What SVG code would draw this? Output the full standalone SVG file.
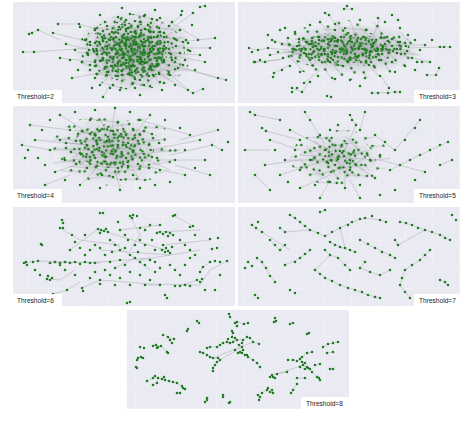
<svg xmlns="http://www.w3.org/2000/svg" width="474" height="422" viewBox="0 0 474 422">
<style>
.bg{fill:#eaeaf2}
.grid{fill:url(#grid)}
.lab{fill:#ffffff}
.t{font-family:"Liberation Sans",Arial,sans-serif;font-size:6.6px;fill:#222}
.e{fill:none;stroke:#a9a9b2;stroke-width:0.5}
.d{fill:none;stroke:#1f7d1f;stroke-width:2.6;stroke-linecap:round}
.pd{fill:#1f7d1f}
.pe{fill:none;stroke:#a0a0aa;stroke-width:0.45}
</style>
<defs>
<pattern id="grid" patternUnits="userSpaceOnUse" width="27" height="24">
<path d="M0 0V24M0 0H27" stroke="#f5f5f9" stroke-width="0.8" fill="none"/>
</pattern>
<pattern id="pA" patternUnits="userSpaceOnUse" width="19" height="17">
<path class="pe" d="M2 3L12 12M9 1L5 10M15 6L17 15"/>
<circle class="pd" cx="2" cy="3" r="1.35"/><circle class="pd" cx="9" cy="1.5" r="1.35"/><circle class="pd" cx="15" cy="6" r="1.35"/><circle class="pd" cx="5" cy="10" r="1.35"/><circle class="pd" cx="12" cy="12" r="1.35"/><circle class="pd" cx="17" cy="15" r="1.35"/><circle class="pd" cx="1.5" cy="15" r="1.35"/><circle class="pd" cx="8" cy="7" r="1.35"/>
</pattern>
<pattern id="pB" patternUnits="userSpaceOnUse" width="23" height="29">
<path class="pe" d="M3 4L15 17M11 2L20 21M7 13L10 25"/>
<circle class="pd" cx="3" cy="4" r="1.35"/><circle class="pd" cx="11" cy="2" r="1.35"/><circle class="pd" cx="19" cy="8" r="1.35"/><circle class="pd" cx="7" cy="13" r="1.35"/><circle class="pd" cx="15" cy="17" r="1.35"/><circle class="pd" cx="2" cy="22" r="1.35"/><circle class="pd" cx="10" cy="25" r="1.35"/><circle class="pd" cx="20" cy="21" r="1.35"/><circle class="pd" cx="13" cy="9" r="1.35"/>
</pattern>
<pattern id="pC" patternUnits="userSpaceOnUse" width="31" height="23">
<path class="pe" d="M4 5L25 7M9 14L28 19"/>
<circle class="pd" cx="4" cy="5" r="1.35"/><circle class="pd" cx="14" cy="3" r="1.35"/><circle class="pd" cx="25" cy="7" r="1.35"/><circle class="pd" cx="9" cy="14" r="1.35"/><circle class="pd" cx="20" cy="16" r="1.35"/><circle class="pd" cx="28" cy="19" r="1.35"/><circle class="pd" cx="2" cy="20" r="1.35"/>
</pattern>
<pattern id="pA2" href="#pA" patternTransform="rotate(23) translate(5 3)"/>
<pattern id="pA3" href="#pA" patternTransform="rotate(-47) translate(2 8)"/>
<pattern id="pA4" href="#pA" patternTransform="rotate(81) translate(9 4)"/>
<pattern id="pB2" href="#pB" patternTransform="rotate(-31) translate(7 11)"/>
<pattern id="pB3" href="#pB" patternTransform="rotate(67) translate(4 2)"/>
<pattern id="pB4" href="#pB" patternTransform="rotate(12) translate(14 6)"/>
<pattern id="pC2" href="#pC" patternTransform="rotate(41) translate(3 9)"/>
<pattern id="pC3" href="#pC" patternTransform="rotate(-13) translate(11 5)"/>
<radialGradient id="haze">
<stop offset="0" stop-color="#8c8c92" stop-opacity="0.6"/>
<stop offset="1" stop-color="#8c8c92" stop-opacity="0"/>
</radialGradient>
</defs>
<rect width="474" height="422" fill="#fff"/>

<g id="panel-t2">
<rect class="bg" x="13" y="2" width="222" height="101"/>
<rect class="grid" x="13" y="2" width="222" height="101"/>
<ellipse cx="135" cy="52" rx="62" ry="42" fill="url(#haze)"/>
<path class="e" d="M23 52L34 52M34 52L88 48M29 34L38 30L60 40M58 24L79 24L100 30M79 24L80 27M53 33L90 42M200 7L205 6M193 13L170 30M182 11L181 15L160 35M218 78L226 80M218 78L175 65M203 89L193 93L160 75M103 97L110 85M188 90L165 70M90 45L180 60M95 60L185 45M100 30L170 80M110 80L175 30M85 55L150 40M120 20L160 85M140 15L130 88M100 70L190 70M95 38L185 38M105 50L200 55M170 22L200 40M150 60L218 78M66 44L100 52M60 58L95 62M72 78L105 72M205 62L170 55M210 48L175 48M215 38L180 42"/>
<ellipse cx="135" cy="52" rx="57" ry="38" fill="url(#pC)"/>
<ellipse cx="133" cy="51" rx="52" ry="35" fill="url(#pB3)"/>
<ellipse cx="133" cy="51" rx="46" ry="31" fill="url(#pB)"/>
<ellipse cx="132" cy="51" rx="42" ry="29" fill="url(#pC2)"/>
<ellipse cx="130" cy="50" rx="38" ry="27" fill="url(#pA)"/>
<ellipse cx="134" cy="52" rx="34" ry="25" fill="url(#pB4)"/>
<ellipse cx="136" cy="53" rx="30" ry="22" fill="url(#pA2)"/>
<ellipse cx="124" cy="46" rx="24" ry="20" fill="url(#pB2)"/>
<ellipse cx="140" cy="56" rx="24" ry="17" fill="url(#pA3)"/>
<ellipse cx="128" cy="50" rx="20" ry="15" fill="url(#pC3)"/>
<ellipse cx="132" cy="48" rx="16" ry="13" fill="url(#pA4)"/>
<path class="d" d="M23 52h0M34 52h0M29 34h0M32 33h0M38 30h0M58 24h0M79 24h0M80 27h0M53 33h0M200 7h0M205 6h0M193 13h0M182 11h0M181 15h0M218 78h0M226 80h0M203 89h0M193 93h0M188 90h0M103 97h0M85 40h0M88 55h0M82 62h0M90 70h0M95 78h0M100 85h0M110 88h0M120 90h0M135 88h0M150 86h0M160 82h0M170 75h0M178 68h0M185 60h0M188 50h0M186 40h0M180 30h0M172 22h0M160 18h0M145 15h0M130 14h0M118 17h0M105 22h0M95 30h0M90 45h0M75 50h0M70 60h0M78 70h0M92 88h0M140 95h0M162 90h0M175 85h0M195 70h0M200 55h0M198 40h0M192 25h0M155 10h0M122 8h0M100 15h0M66 44h0M60 58h0M72 78h0M205 62h0M210 48h0M215 38h0"/>
<rect class="lab" x="13" y="90" width="49" height="13"/>
<text class="t" x="17" y="99">Threshold=2</text>
</g>

<g id="panel-t3">
<rect class="bg" x="238" y="2" width="222" height="101"/>
<rect class="grid" x="238" y="2" width="222" height="101"/>
<ellipse cx="350" cy="49" rx="72" ry="26" fill="url(#haze)"/>
<path class="e" d="M249 48L258 50L268 48L290 50M255 62L265 62L285 58M272 40L290 45M325 13L329 15L340 30M347 6L344 9L352 9M440 47L450 47M417 62L430 62M430 62L400 55M427 75L436 75L439 68M372 93L400 92M389 88L380 75M292 88L302 92L310 80M274 73L290 65M304 83L320 70M280 45L410 50M290 55L400 45M300 40L415 55M310 60L390 35M320 35L420 55M283 52L360 58M330 45L425 45M270 55L300 50M350 20L360 50M380 18L370 45M440 47L410 48M254 62L280 60"/>
<ellipse cx="348" cy="50" rx="66" ry="30" fill="url(#pC2)"/>
<ellipse cx="350" cy="49" rx="62" ry="22" fill="url(#pC)"/>
<ellipse cx="350" cy="49" rx="58" ry="17" fill="url(#pB)"/>
<ellipse cx="348" cy="49" rx="54" ry="14" fill="url(#pA)"/>
<ellipse cx="345" cy="48" rx="42" ry="11" fill="url(#pA2)"/>
<ellipse cx="340" cy="50" rx="50" ry="16" fill="url(#pB4)"/>
<ellipse cx="302" cy="47" rx="16" ry="13" fill="url(#pB2)"/>
<ellipse cx="395" cy="44" rx="15" ry="11" fill="url(#pB3)"/>
<ellipse cx="360" cy="52" rx="20" ry="9" fill="url(#pA3)"/>
<path class="d" d="M249 48h0M252 52h0M258 50h0M268 48h0M265 62h0M260 60h0M255 62h0M272 40h0M275 42h0M347 6h0M344 9h0M352 9h0M325 13h0M329 15h0M440 47h0M444 47h0M450 47h0M417 62h0M422 62h0M430 62h0M439 68h0M436 75h0M427 75h0M327 96h0M331 97h0M372 93h0M378 93h0M388 93h0M395 92h0M400 92h0M389 88h0M292 88h0M297 88h0M292 92h0M302 92h0M274 73h0M273 77h0M304 83h0M254 62h0M280 30h0M285 28h0M295 32h0M310 25h0M320 22h0M335 24h0M360 20h0M378 18h0M385 22h0M400 28h0M408 35h0M415 40h0M420 50h0M412 58h0M405 66h0M395 72h0M380 76h0M365 78h0M350 80h0M335 79h0M318 76h0M300 72h0M290 66h0M283 58h0M278 52h0M282 44h0M288 38h0M392 15h0M398 20h0M282 70h0M310 82h0M360 86h0M415 70h0M425 45h0M432 40h0M268 35h0M270 55h0"/>
<rect class="lab" x="414" y="90" width="46" height="13"/>
<text class="t" x="419" y="99">Threshold=3</text>
</g>

<g id="panel-t4">
<rect class="bg" x="13" y="106" width="222" height="97"/>
<rect class="grid" x="13" y="106" width="222" height="97"/>
<ellipse cx="112" cy="150" rx="58" ry="36" fill="url(#haze)" opacity="0.7"/>
<path class="e" d="M22 145L50 150L112 150M35 140L90 145M60 115L100 140M115 108L112 130M150 115L130 140M200 140L150 150M222 150L212 145L170 155M205 160L160 160M185 175L140 165M120 190L115 170M80 185L100 165M55 172L90 160M45 185L70 175M60 140L160 140M70 160L180 150M80 130L170 170M90 170L150 125M100 120L140 180M30 125L70 130M140 120L190 135M65 160L120 175M210 175L175 165M218 130L180 140"/>
<ellipse cx="114" cy="150" rx="64" ry="36" fill="url(#pC3)"/>
<ellipse cx="112" cy="150" rx="50" ry="31" fill="url(#pC)"/>
<ellipse cx="112" cy="150" rx="42" ry="26" fill="url(#pB3)"/>
<ellipse cx="110" cy="148" rx="32" ry="20" fill="url(#pA2)"/>
<ellipse cx="112" cy="150" rx="24" ry="16" fill="url(#pB2)"/>
<path class="d" d="M22 145h0M28 150h0M25 158h0M35 140h0M42 130h0M50 120h0M60 115h0M75 112h0M95 110h0M115 108h0M130 112h0M150 115h0M165 120h0M180 128h0M190 135h0M200 140h0M212 145h0M222 150h0M228 142h0M205 160h0M195 168h0M185 175h0M170 182h0M155 185h0M140 188h0M120 190h0M100 188h0M80 185h0M65 180h0M55 172h0M45 165h0M38 158h0M50 150h0M60 140h0M70 130h0M160 170h0M175 160h0M185 150h0M45 185h0M210 175h0M218 130h0M30 125h0M140 120h0M90 120h0M65 160h0"/>
<rect class="lab" x="13" y="189" width="49" height="14"/>
<text class="t" x="17" y="198">Threshold=4</text>
</g>

<g id="panel-t5">
<rect class="bg" x="238" y="106" width="222" height="97"/>
<rect class="grid" x="238" y="106" width="222" height="97"/>
<ellipse cx="338" cy="158" rx="48" ry="28" fill="url(#haze)" opacity="0.5"/>
<path class="e" d="M262 128L266 131L300 140M250 112L255 115L280 120M290 130L330 150M285 160L320 160M280 175L310 165M300 188L330 175M345 188L345 170M375 178L355 165M390 170L420 155L448 142M440 165L452 160M425 172L380 160M350 115L356 125L345 150M365 112L360 130M305 112L310 120L325 145M375 135L395 150L420 120M270 140L300 150M265 165L300 160M255 175L270 190M245 150L270 150M300 155L380 160M310 165L370 150M320 145L365 170M330 140L350 175M360 198L350 180M320 198L330 180"/>
<ellipse cx="340" cy="158" rx="50" ry="28" fill="url(#pC3)"/>
<ellipse cx="338" cy="158" rx="38" ry="22" fill="url(#pC2)"/>
<ellipse cx="338" cy="158" rx="28" ry="16" fill="url(#pB3)"/>
<ellipse cx="340" cy="158" rx="16" ry="9" fill="url(#pA)"/>
<path class="d" d="M262 128h0M266 131h0M250 112h0M255 115h0M280 120h0M290 130h0M300 140h0M295 150h0M285 160h0M280 175h0M288 182h0M300 188h0M315 185h0M330 182h0M345 188h0M360 185h0M375 178h0M390 170h0M400 165h0M410 160h0M420 155h0M430 150h0M440 145h0M448 142h0M452 160h0M440 165h0M425 172h0M415 180h0M395 190h0M380 195h0M350 115h0M352 120h0M356 125h0M360 130h0M365 112h0M338 125h0M330 130h0M320 135h0M310 120h0M305 112h0M375 135h0M385 142h0M395 150h0M405 140h0M415 128h0M420 120h0M270 140h0M275 150h0M265 165h0M255 175h0M270 190h0M245 150h0M360 198h0M320 198h0M300 170h0M370 160h0M380 155h0M310 160h0M350 170h0M325 150h0"/>
<rect class="lab" x="414" y="189" width="46" height="14"/>
<text class="t" x="419" y="198">Threshold=5</text>
</g>

<g id="panel-t6">
<rect class="bg" x="13" y="207" width="222" height="99"/>
<rect class="grid" x="13" y="207" width="222" height="99"/>
<path class="e" d="M24 263L38 261L100 263M50 263L100 262L150 258M100 230L165 250M130 216L140 235L130 250M157 232L200 230M163 245L210 240M82 288L100 280L150 284L200 285L210 270L225 262M47 279L60 280L75 270M53 294L67 290L80 282M180 286L197 280M100 250L170 255M60 228L80 240L120 245M110 240L150 270M140 260L200 250M193 226L175 216M98 229L70 250M120 230L160 225M200 272L203 267L210 262M145 285L160 285M115 268L135 258"/>
<path class="d" d="M100 213h0M103 213h0M62 220h0M63 223h0M60 228h0M63 228h0M41 244h0M42 245h0M130 216h0M133 215h0M137 216h0M132 218h0M173 216h0M175 215h0M193 226h0M190 227h0M98 229h0M101 230h0M104 231h0M106 229h0M100 233h0M108 232h0M157 233h0M160 232h0M163 234h0M166 232h0M170 233h0M173 235h0M168 236h0M210 239h0M218 238h0M212 249h0M217 248h0M163 245h0M166 248h0M168 251h0M170 253h0M165 252h0M172 247h0M162 250h0M24 263h0M26 262h0M27 265h0M33 262h0M38 261h0M50 263h0M55 262h0M60 263h0M65 262h0M70 263h0M75 262h0M80 264h0M85 262h0M90 263h0M95 263h0M47 279h0M50 280h0M48 276h0M52 278h0M210 262h0M215 261h0M220 262h0M227 261h0M200 272h0M203 267h0M197 280h0M200 282h0M202 279h0M180 286h0M185 285h0M190 286h0M175 286h0M82 288h0M83 291h0M67 290h0M53 294h0M165 295h0M167 298h0M127 303h0M130 302h0M110 240h0M115 245h0M120 250h0M125 248h0M130 255h0M135 258h0M140 262h0M145 265h0M150 260h0M155 262h0M135 245h0M140 240h0M145 245h0M120 260h0M125 265h0M115 268h0M110 262h0M105 255h0M100 248h0M95 245h0M90 250h0M85 255h0M80 248h0M75 242h0M70 250h0M105 270h0M95 272h0M90 278h0M100 280h0M110 275h0M120 278h0M130 272h0M140 275h0M150 280h0M155 272h0M160 268h0M170 265h0M175 270h0M180 275h0M185 265h0M190 258h0M145 230h0M150 225h0M120 230h0M118 222h0M140 228h0M180 240h0M185 245h0M190 250h0M195 255h0M155 250h0M160 285h0M145 285h0M130 285h0M115 285h0M100 284h0M75 275h0M65 270h0M60 265h0M35 270h0M40 275h0M205 290h0M215 290h0M220 275h0M160 225h0M125 235h0M112 252h0M128 240h0M138 252h0M152 240h0M72 235h0M85 235h0M195 235h0"/>
<rect class="lab" x="13" y="294" width="49" height="12"/>
<text class="t" x="17" y="303">Threshold=6</text>
</g>

<g id="panel-t7">
<rect class="bg" x="238" y="207" width="222" height="99"/>
<rect class="grid" x="238" y="207" width="222" height="99"/>
<path class="e" d="M252 225L256 228L262 232M248 262L252 266M257 258L262 262L266 268L270 276L275 282M290 215L300 222L310 230L325 236L340 228L352 222L365 218L380 220L386 222M330 242L340 247L350 250L355 252M325 250L330 255L338 258M310 250L300 258L285 265M315 270L325 278L340 285L355 290L368 295L380 298M400 222L412 225L425 230L440 235L450 240M430 250L420 260L405 270L400 285L405 292L410 298M440 280L448 285M270 240L280 250L285 245M360 240L375 248L390 255L395 258M365 262L360 268L370 272L380 275L390 270M280 228L285 232L310 230M340 228L345 248M262 232L290 250M338 258L345 265L350 270M395 240L398 245L425 230M320 212L325 210M330 255L315 270"/>
<path class="d" d="M252 225h0M256 228h0M262 232h0M258 222h0M248 262h0M252 266h0M245 268h0M257 258h0M262 262h0M266 268h0M270 276h0M275 282h0M290 215h0M295 218h0M300 222h0M305 226h0M310 230h0M318 233h0M325 236h0M332 232h0M340 228h0M348 225h0M352 222h0M360 219h0M365 218h0M372 216h0M380 220h0M386 222h0M330 242h0M335 245h0M340 247h0M345 248h0M350 250h0M355 252h0M325 250h0M330 255h0M338 258h0M310 250h0M305 254h0M300 258h0M295 262h0M285 265h0M315 270h0M320 274h0M325 278h0M332 281h0M340 285h0M348 288h0M355 290h0M362 292h0M368 295h0M375 297h0M380 298h0M400 222h0M406 223h0M412 225h0M418 228h0M425 230h0M432 232h0M440 235h0M445 238h0M450 240h0M430 250h0M425 255h0M420 260h0M412 265h0M405 270h0M402 278h0M400 285h0M405 292h0M410 298h0M440 280h0M445 282h0M448 285h0M270 240h0M275 245h0M280 250h0M285 245h0M360 240h0M368 244h0M375 248h0M382 252h0M390 255h0M395 258h0M365 262h0M360 268h0M370 272h0M380 275h0M390 270h0M320 212h0M325 210h0M290 290h0M295 293h0M255 295h0M258 298h0M345 265h0M350 270h0M280 228h0M285 232h0M395 240h0M398 245h0M456 220h0M452 215h0"/>
<rect class="lab" x="414" y="294" width="46" height="12"/>
<text class="t" x="419" y="303">Threshold=7</text>
</g>

<g id="panel-t8">
<rect class="bg" x="127" y="310" width="222" height="99"/>
<rect class="grid" x="127" y="310" width="222" height="99"/>
<path class="e" d="M229 314L230 317M235 323L237 322L244 324L248 323M237 326L235 323M163 335L168 337L170 340L172 343M168 337L174 339M153 346L156 345L158 347L161 346L167 352L168 353M157 348L158 347M138 358L141 357L143 358M147 381L153 378L155 376L158 378L162 379L164 377L165 380L169 381L173 382L177 383L182 386L183 388L185 389M153 385L157 383L158 378M180 393L177 393M200 352L203 353L207 355L210 357L213 358L218 358L220 360L217 362L215 365L213 368L213 371M207 348L210 347L217 347L220 345L223 343L227 342L230 343L233 342L237 340L243 340L247 337L250 338L253 342L259 344M232 331L233 333L232 337L235 338L233 342M239 345L242 347L243 350L240 352L238 353L242 353L245 355L247 355L248 357L253 360L257 363L260 367M220 360L242 347M213 358L253 342M297 361L302 357L307 353L312 352M300 359L302 362L305 363L303 365L307 367L308 368L310 369M305 369L300 367M315 365L320 364M312 372L317 377L319 378L320 380M305 378L297 378M288 360L293 360L297 361M287 372L277 374L272 375M273 377L275 378M270 377L272 375M297 384L293 390L291 393M277 374L303 365M323 347L328 344L333 343L338 342M327 353L333 352M258 395L260 397L259 400M262 393L267 390L268 388M270 392L273 393L272 390"/>
<path class="d" d="M229 314h0M230 317h0M235 323h0M237 322h0M237 326h0M244 324h0M248 323h0M197 321h0M199 323h0M188 329h0M187 331h0M163 335h0M168 337h0M170 340h0M172 343h0M174 339h0M140 347h0M144 348h0M153 346h0M156 345h0M158 347h0M161 346h0M157 348h0M167 352h0M168 353h0M138 358h0M141 357h0M143 358h0M137 360h0M136 367h0M137 368h0M147 381h0M153 378h0M155 376h0M158 378h0M162 379h0M164 377h0M165 380h0M169 381h0M173 382h0M177 383h0M182 386h0M183 388h0M185 389h0M180 393h0M177 393h0M153 385h0M157 383h0M207 400h0M207 398h0M205 402h0M223 395h0M223 397h0M229 403h0M230 402h0M230 343h0M233 342h0M237 340h0M227 342h0M223 343h0M220 345h0M217 347h0M210 347h0M207 348h0M232 337h0M235 338h0M228 339h0M233 333h0M232 331h0M239 345h0M242 347h0M243 350h0M240 352h0M238 353h0M242 353h0M245 355h0M247 355h0M248 357h0M253 360h0M257 363h0M260 367h0M200 352h0M203 353h0M207 355h0M210 357h0M213 358h0M218 358h0M220 360h0M217 362h0M215 365h0M213 368h0M213 371h0M243 340h0M247 337h0M250 338h0M253 342h0M259 344h0M242 343h0M235 350h0M312 352h0M307 353h0M302 357h0M300 359h0M297 361h0M302 362h0M305 363h0M303 365h0M307 367h0M308 368h0M310 369h0M305 369h0M300 367h0M315 365h0M320 364h0M312 372h0M317 377h0M319 378h0M320 380h0M305 378h0M297 378h0M288 360h0M293 360h0M287 372h0M277 374h0M272 375h0M273 377h0M275 378h0M270 377h0M297 384h0M293 390h0M291 393h0M323 347h0M328 344h0M333 343h0M338 342h0M327 353h0M333 352h0M330 369h0M333 369h0M307 334h0M309 333h0M290 324h0M293 323h0M275 318h0M274 322h0M276 321h0M258 395h0M260 397h0M259 400h0M262 393h0M267 390h0M268 388h0M270 392h0M273 393h0M272 390h0"/>
<rect class="lab" x="301" y="397" width="48" height="12"/>
<text class="t" x="306" y="406">Threshold=8</text>
</g>
</svg>
